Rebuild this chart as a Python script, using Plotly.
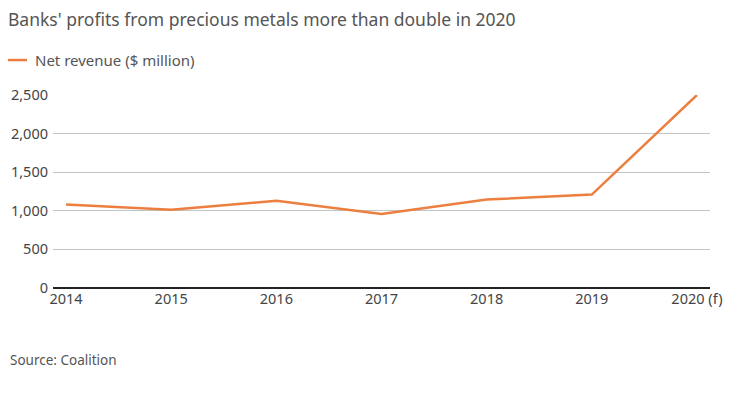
import plotly.graph_objects as go

years = ["2014", "2015", "2016", "2017", "2018", "2019", "2020 (f)"]
net_revenue = [1080, 1015, 1130, 960, 1145, 1210, 2500]
y_ticks = [0, 500, 1000, 1500, 2000, 2500]
y_tick_labels = ["0", "500", "1,000", "1,500", "2,000", "2,500"]
series_name = "Net revenue ($ million)"

FONT = "Noto Sans"
ORANGE = "#EC7F3F"

# page body has an 8px margin, so figure is drawn 8px smaller and offset
W, H = 724, 388

fig = go.Figure()
fig.add_trace(go.Scatter(
    x=years, y=net_revenue, mode="lines",
    name=series_name,
    line=dict(color=ORANGE, width=2.5),
    cliponaxis=False,
    showlegend=False,
))

fig.update_layout(
    width=W, height=H,
    margin=dict(l=45, r=22, t=87, b=108, autoexpand=False),
    paper_bgcolor="white", plot_bgcolor="white",
    font=dict(family=FONT, color="#444", size=14),
    title=dict(text="Banks' profits from precious metals more than double in 2020",
               x=0.0, xref="container", xanchor="left",
               y=0.969, yref="container", yanchor="middle",
               font=dict(size=17.5, color="#555", family=FONT)),
    xaxis=dict(type="category", range=[-0.124, 6.124], showgrid=False,
               showline=False, zeroline=False, ticks="", automargin=False,
               tickfont=dict(size=14.5, color="#444")),
    yaxis=dict(range=[0, 2500], tickvals=y_ticks, ticktext=y_tick_labels,
               showgrid=True, gridcolor="#c4c4c4", gridwidth=1,
               zeroline=True, zerolinecolor="#222", zerolinewidth=2,
               showline=False, ticks="", ticklabelstandoff=4, automargin=False,
               tickfont=dict(size=14.5, color="#444")),
    shapes=[dict(type="line", xref="paper", yref="paper",
                 x0=-0.0685, x1=-0.0396, y0=1.181, y1=1.181,
                 line=dict(color=ORANGE, width=2.5))],
    annotations=[
        dict(text=series_name, xref="paper", yref="paper",
             x=-0.0304, y=1.181, xanchor="left", yanchor="middle",
             showarrow=False, font=dict(size=15, color="#555", family=FONT)),
        dict(text="Source: Coalition", xref="paper", yref="paper",
             x=-0.0685, y=-0.373, xanchor="left", yanchor="middle",
             showarrow=False, font=dict(size=13.5, color="#555", family=FONT)),
    ],
)

fig.write_html("out.html")
